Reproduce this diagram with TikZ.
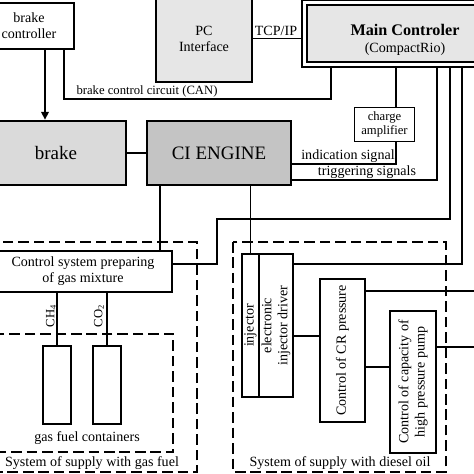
\documentclass[tikz,border=0pt]{standalone}
\usepackage{fontspec}
\setmainfont{Liberation Serif}
\usetikzlibrary{arrows.meta}
\definecolor{cBoxGray}{RGB}{230,230,230}
\definecolor{cBrake}{RGB}{218,218,218}
\definecolor{cEngine}{RGB}{196,196,196}
\newdimen\pxu
\pxu=0.025cm
\tikzset{
	blk/.style    ={rectangle, draw=black, line width=1.3pt, align=center, inner sep=1pt, font=\fontsize{10}{11.5}\selectfont},
	bigblk/.style ={rectangle, draw=black, line width=2pt, font=\fontsize{13.5}{15}\selectfont},
	ctrlblk/.style={rectangle, draw=black, line width=1.6pt, double=white, double distance=1.9pt, outer sep=2.55pt, fill=cBoxGray},
	vblk/.style   ={rectangle, draw=black, line width=1.1pt},
	vtxt/.style   ={rotate=90, align=center, inner sep=0pt, font=\fontsize{10}{11.5}\selectfont},
	wire/.style   ={line width=1pt},
	buswire/.style={line width=1.9pt},
	zone/.style   ={draw=black, line width=1pt, dash pattern=on 7.5pt off 3.5pt},
	sig/.style    ={-{Triangle[length=5.5pt, width=5.5pt]}, line width=1pt},
	txt/.style    ={inner sep=1pt, font=\fontsize{10}{11.5}\selectfont},
	smalltxt/.style={inner sep=0.8pt, font=\fontsize{9}{10.5}\selectfont},
}
\begin{document}
\begin{tikzpicture}[x=0.025cm, y=-0.025cm]
	\path[use as bounding box, clip] (0,0) rectangle (474,474);
	% supply zones
	\draw[zone] (-10,242) rectangle (197,472);
	\draw[zone] (-10,334) rectangle (173,452);
	\draw[zone] (233,242) rectangle (446,472);
	\node[txt] (gaszone) at (92,463) {System of supply with gas fuel};
	\node[txt] (tankzone) at (87,438) {gas fuel containers};
	\node[txt] (oilzone) at (340,463) {System of supply with diesel oil};
	% blocks
	\node[blk, minimum width=90\pxu, minimum height=46\pxu] (bctrl) at (29,26) {brake\\controller};
	\node[blk, fill=cBoxGray, minimum width=96\pxu, minimum height=87\pxu] (pc) at (204,38.5) {PC\\Interface};
	\node[ctrlblk, minimum width=201\pxu, minimum height=62\pxu,
		label={[align=center, yshift=-4.5pt, font=\fontsize{10}{11.5}\selectfont]center:{\fontsize{11.5}{13}\selectfont\bfseries Main Controler\\(CompactRio)}}] (mainc) at (405,33.5) {};
	\node[blk, line width=1.1pt, font=\fontsize{9}{10.5}\selectfont, minimum width=60\pxu, minimum height=34\pxu] (amp) at (384.5,124.5) {charge\\amplifier};
	\node[bigblk, fill=cBrake, minimum width=140\pxu, minimum height=64\pxu] (brake) at (56,153) {brake};
	\node[bigblk, fill=cEngine, minimum width=144\pxu, minimum height=64\pxu] (engine) at (219,153) {CI ENGINE};
	\node[blk, line width=1.1pt, minimum width=178\pxu, minimum height=41\pxu] (csys) at (83,271.5) {Control system preparing\\of gas mixture};
	\node[vblk, minimum width=28\pxu, minimum height=78\pxu] (tank1) at (57,385) {};
	\node[vblk, minimum width=28\pxu, minimum height=78\pxu] (tank2) at (107,385) {};
	\node[vblk, minimum width=17\pxu, minimum height=143\pxu, label={[vtxt]center:injector}] (inj) at (250.5,325.5) {};
	\node[vblk, minimum width=34\pxu, minimum height=143\pxu, label={[vtxt]center:electronic\\injector driver}] (drv) at (276,325.5) {};
	\node[vblk, minimum width=45\pxu, minimum height=143\pxu, label={[vtxt]center:Control of CR pressure}] (crp) at (342.5,350.5) {};
	\node[vblk, minimum width=46\pxu, minimum height=142\pxu, label={[vtxt]center:Control of capacity of\\high pressure pump}] (pump) at (413,382) {};
	% wire positions
	\coordinate (xbrk) at (45,0);
	\coordinate (xcan) at (64,0);
	\coordinate (can) at (331,99);
	\coordinate (xcs) at (160,0);
	\coordinate (xamp) at (396,0);
	\coordinate (xtrg) at (437,0);
	\coordinate (xgas) at (450,0);
	\coordinate (xinj) at (462,0);
	\coordinate (gasbend) at (217,219);
	\coordinate (yind) at (0,164);
	\coordinate (ytrg) at (0,180);
	\coordinate (ygas) at (0,264);
	\coordinate (ycr) at (0,291);
	\coordinate (ydrv) at (0,336);
	\coordinate (ycap) at (0,347);
	\coordinate (ypmp) at (0,367);
	\coordinate (redge) at (480,0);
	% connections
	\draw[sig] (bctrl.south -| xbrk) -- (brake.north -| xbrk);
	\draw[wire] (bctrl.south -| xcan) |- (can) -- (can |- mainc.south);
	\node[smalltxt, above] (canlbl) at (147,99) {brake control circuit (CAN)};
	\draw[wire] (pc.east) -- (pc.east -| mainc.west);
	\node[txt, above] (tcplbl) at (276,37) {TCP/IP};
	\draw[wire] (mainc.south -| xamp) -- (amp.north -| xamp);
	\draw[wire] (amp.south -| xamp) |- (engine.east |- yind);
	\node[txt, above] (indlbl) at (348,164) {indication signal};
	\draw[wire] (mainc.south -| xtrg) |- (engine.east |- ytrg);
	\node[txt, above] (trglbl) at (367,180) {triggering signals};
	\draw[wire] (brake.east) -- (engine.west);
	\draw[wire] (mainc.south -| xgas) |- (gasbend) |- (csys.east |- ygas);
	\draw[wire] (mainc.south -| xinj) |- (drv.east |- ygas);
	\draw[wire] (engine.south -| xcs) -- (csys.north -| xcs);
	\draw[wire] (engine.south -| inj.north) -- (inj.north);
	\draw[wire] (csys.south -| tank1.north) -- (tank1.north);
	\draw[wire] (csys.south -| tank2.north) -- (tank2.north);
	\node[smalltxt, rotate=90] (ch4) at (51,316) {CH\textsubscript{4}};
	\node[smalltxt, rotate=90] (co2) at (99,316) {CO\textsubscript{2}};
	\draw[buswire] (drv.east |- ydrv) -- (crp.west |- ydrv);
	\draw[buswire] (crp.east |- ypmp) -- (pump.west |- ypmp);
	\draw[wire] (crp.east |- ycr) -- (redge |- ycr);
	\draw[wire] (pump.east |- ycap) -- (redge |- ycap);
\end{tikzpicture}
\end{document}
